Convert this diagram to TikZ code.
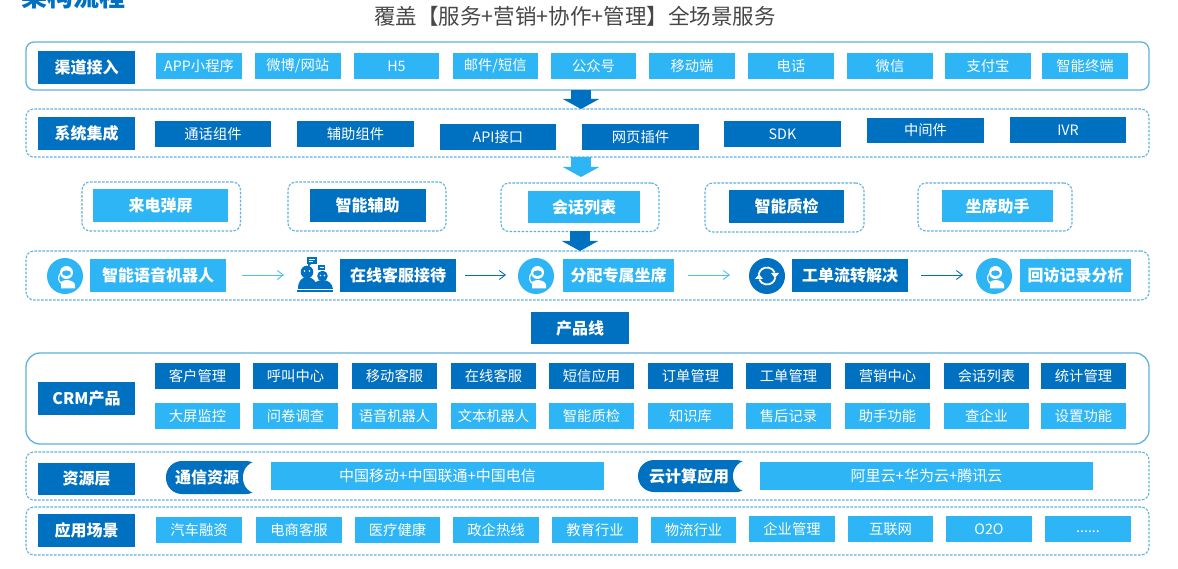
\documentclass[tikz,border=0pt]{standalone}
\usepackage{fontspec}
\setmainfont{Noto Sans CJK SC}
\usetikzlibrary{arrows.meta}
\definecolor{dk}{HTML}{0070C0}
\definecolor{lt}{HTML}{2DB5F5}
\definecolor{fr}{HTML}{5FB2DE}
\tikzset{
  base/.style={rectangle,inner sep=0pt,outer sep=0pt,text=white,align=center},
  dkitem/.style={base,fill=dk,font=\fontsize{14.3}{14.3}\selectfont},
  ltitem/.style={base,fill=lt,font=\fontsize{14.3}{14.3}\selectfont},
  dkhead/.style={base,fill=dk,font=\fontsize{16}{16}\selectfont\bfseries},
  lthead/.style={base,fill=lt,font=\fontsize{16}{16}\selectfont\bfseries},
  solidframe/.style={rectangle,draw=fr,line width=1.3pt,rounded corners=8pt,inner sep=0pt,outer sep=0pt},
  dashframe/.style={rectangle,draw=fr,line width=1.1pt,dash pattern=on 2.6pt off 1.4pt,rounded corners=8pt,inner sep=0pt,outer sep=0pt},
  flow/.style={-{Straight Barb[length=6pt,width=9pt]},line width=0.9pt},
  dkflow/.style={flow,draw=dk},
  ltflow/.style={flow,draw=lt!85!white},
  bigarrow/.style={line width=20pt,-{Triangle[width=36pt,length=10pt]}},
  iconcirc/.style={circle,minimum size=36pt,inner sep=0pt,outer sep=0pt},
}
\newcommand{\bx}[7]{%
  \pgfmathsetmacro{\ww}{#4-#2}\pgfmathsetmacro{\hh}{#5-#3}%
  \node[#6,minimum width=\ww pt,minimum height=\hh pt] (#1) at ({(#2+#4)/2},{(#3+#5)/2}) {#7};}
\newcommand{\agent}[1]{%
  \begin{scope}[shift={(#1.center)}]
    \fill[white] (-4,12.5) -- (-4,6) .. controls (-2,4.5) and (0,4) .. (2,4) .. controls (6,4.5) and (10,6) .. (10,9) -- (10,12.5) -- cycle;
    \fill[white] (1.5,-3.5) circle (6.5);
    \fill[lt] (1.5,-2.8) ellipse (4.4 and 2.8);
    \draw[white,line width=1.2pt] (-5,-2.5) .. controls (-7.5,2) and (-6.5,6) .. (-2.5,8);
  \end{scope}}
\begin{document}
\begin{tikzpicture}[x=1pt,y=-1pt]
\useasboundingbox (0,0) rectangle (1178,569);
\fill[white] (0,0) rectangle (1178,569);
% titles
\node[text=dk,font=\fontsize{26}{26}\selectfont\bfseries,inner sep=0,anchor=center] (logo) at (73.5,-3) {架构流程};
\node[text=black!72,font=\fontsize{21.5}{21.5}\selectfont,inner sep=0] (title) at (575,16) {覆盖【服务+营销+协作+管理】全场景服务};
% frames
\bx{f1}{26}{42}{1149}{90}{solidframe}{}
\bx{f2}{26}{109}{1149}{157}{dashframe}{}
\bx{f4}{26}{251}{1149}{300}{dashframe}{}
\bx{f5}{26}{353}{1149}{444}{solidframe,rounded corners=14pt}{}
\bx{f6}{26}{452}{1149}{500}{dashframe}{}
\bx{f7}{26}{507}{1149}{555}{dashframe}{}
\bx{fa}{82}{182}{240.5}{231}{dashframe}{}
\bx{fb}{288}{182}{446}{231}{dashframe}{}
\bx{fc}{501}{183}{659}{231.5}{dashframe}{}
\bx{fd}{705}{183}{864}{232}{dashframe}{}
\bx{fe}{918}{183}{1072}{231}{dashframe}{}
% big arrows
\draw[bigarrow,draw=dk] ([xshift=-6.5pt]f1.south) -- ([xshift=-6.5pt]f2.north);
\draw[bigarrow,draw=lt,shorten >=6pt] ([xshift=-6.5pt]f2.south) -- ([xshift=1pt]fc.north);
\draw[bigarrow,draw=dk] (fc.south) -- ([xshift=-7.5pt]f4.north);
% row 1
\bx{h1}{38}{51}{135}{84}{dkhead}{渠道接入}
\bx{a1}{156}{53}{242}{79}{ltitem}{APP小程序}
\bx{a2}{255}{53}{340.5}{79}{ltitem}{微博/网站}
\bx{a3}{354}{53}{439}{79}{ltitem}{H5}
\bx{a4}{452.5}{53}{538}{79}{ltitem}{邮件/短信}
\bx{a5}{551}{53}{636}{79}{ltitem}{公众号}
\bx{a6}{649}{53}{735}{79}{ltitem}{移动端}
\bx{a7}{748}{53}{834}{79}{ltitem}{电话}
\bx{a8}{847}{53}{933}{79}{ltitem}{微信}
\bx{a9}{945}{53}{1031}{79}{ltitem}{支付宝}
\bx{a10}{1042}{53}{1128}{79}{ltitem}{智能终端}
% row 2
\bx{h2}{38}{117}{135}{150}{dkhead}{系统集成}
\bx{b1}{155}{121}{271}{147}{dkitem}{通话组件}
\bx{b2}{297}{121}{414}{147}{dkitem}{辅助组件}
\bx{b3}{440}{124}{556}{150}{dkitem}{API接口}
\bx{b4}{582}{124}{699}{150}{dkitem}{网页插件}
\bx{b5}{724}{121}{841}{147}{dkitem}{SDK}
\bx{b6}{867}{118}{984}{143}{dkitem}{中间件}
\bx{b7}{1010}{117}{1126}{143}{dkitem}{IVR}
% row 3
\bx{c1}{93}{189}{228}{222}{lthead}{来电弹屏}
\bx{c2}{309.5}{189}{425.5}{222}{dkhead}{智能辅助}
\bx{c3}{528}{191}{640}{223}{lthead}{会话列表}
\bx{c4}{729}{190}{844}{223}{dkhead}{智能质检}
\bx{c5}{942}{190}{1053}{222}{lthead}{坐席助手}
% row 4
\node[iconcirc,fill=lt] (i1) at (65,276) {};
\agent{i1}
\bx{d1}{90}{259}{226}{292}{lthead}{智能语音机器人}
\fill[dk] (307,272) circle (6.3);
\fill[dk] (298,289) .. controls (298,281) and (302,277) .. (307,277) .. controls (312,277) and (317,281) .. (318,289) -- cycle;
\fill[dk] (322.5,276) circle (5.3);
\fill[dk] (312,289) .. controls (313,283) and (317,280) .. (322.5,280) .. controls (328,280) and (332,283) .. (333,289) -- cycle;
\fill[white] (304.5,271) circle (.9);\fill[white] (309.5,271) circle (.9);
\fill[white] (320.5,275.5) circle (.8);\fill[white] (324.5,275.5) circle (.8);
\fill[dk] (297,290.5) rectangle (333,292.5);
\fill[dk] (307,257) rectangle (317,264);\fill[dk] (308,264) -- (311,264) -- (308,267) -- cycle;
\draw[white,line width=.8pt] (309,259.5) -- (315,259.5) (309,261.7) -- (313,261.7);
\fill[dk] (318,265) rectangle (325,270);
\draw[white,line width=.7pt] (319.5,267) -- (323.5,267);
\bx{d2}{340}{259}{456}{292}{dkhead}{在线客服接待}
\node[iconcirc,fill=lt] (i3) at (536,276) {};
\agent{i3}
\bx{d3}{563}{259}{674}{292}{lthead}{分配专属坐席}
\node[iconcirc,fill=dk] (i4) at (767,276) {};
\begin{scope}[shift={(i4.center)}]
  \draw[white,line width=1.8pt] (i4.center) ++(-170:8.5) arc[start angle=-170,end angle=-25,radius=8.5];
  \draw[white,line width=1.8pt] (i4.center) ++(10:8.5) arc[start angle=10,end angle=155,radius=8.5];
\end{scope}
\fill[white] ([shift={(4,-3)}]i4.center) -- ([shift={(12,-3)}]i4.center) -- ([shift={(8,2)}]i4.center) -- cycle;
\fill[white] ([shift={(-12,3)}]i4.center) -- ([shift={(-4,3)}]i4.center) -- ([shift={(-8,-2)}]i4.center) -- cycle;
\bx{d4}{792}{259}{908}{292}{dkhead}{工单流转解决}
\node[iconcirc,fill=lt] (i5) at (994,276) {};
\agent{i5}
\bx{d5}{1020}{259}{1131}{292}{lthead}{回访记录分析}
\coordinate (n1) at (242,275);\coordinate (n2) at (284,275);
\coordinate (n3) at (465,275);\coordinate (n4) at (506,275);
\coordinate (n5) at (688,275);\coordinate (n6) at (730,275);
\coordinate (n7) at (921,275);\coordinate (n8) at (963,275);
\draw[ltflow] (n1) -- (n2);
\draw[dkflow] (n3) -- (n4);
\draw[ltflow] (n5) -- (n6);
\draw[dkflow] (n7) -- (n8);
% product line
\bx{p}{531}{312}{629}{344}{dkhead}{产品线}
% CRM
\bx{h5}{38}{382}{135}{415}{dkhead}{CRM产品}
\bx{e1}{155}{363}{240}{389}{dkitem}{客户管理}
\bx{e2}{253}{363}{338}{389}{dkitem}{呼叫中心}
\bx{e3}{352}{363}{437}{389}{dkitem}{移动客服}
\bx{e4}{451}{363}{536}{389}{dkitem}{在线客服}
\bx{e5}{549}{363}{634}{389}{dkitem}{短信应用}
\bx{e6}{648}{363}{733}{389}{dkitem}{订单管理}
\bx{e7}{746}{363}{831}{389}{dkitem}{工单管理}
\bx{e8}{845}{363}{930}{389}{dkitem}{营销中心}
\bx{e9}{944}{363}{1029}{389}{dkitem}{会话列表}
\bx{e10}{1041}{363}{1126}{389}{dkitem}{统计管理}
\bx{g1}{155}{403}{240}{429}{ltitem}{大屏监控}
\bx{g2}{253}{403}{338}{429}{ltitem}{问卷调查}
\bx{g3}{352}{403}{437}{429}{ltitem}{语音机器人}
\bx{g4}{451}{403}{536}{429}{ltitem}{文本机器人}
\bx{g5}{549}{403}{634}{429}{ltitem}{智能质检}
\bx{g6}{648}{403}{733}{429}{ltitem}{知识库}
\bx{g7}{746}{403}{831}{429}{ltitem}{售后记录}
\bx{g8}{845}{403}{930}{429}{ltitem}{助手功能}
\bx{g9}{944}{403}{1029}{429}{ltitem}{查企业}
\bx{g10}{1041}{403}{1126}{429}{ltitem}{设置功能}
% resources
\bx{h6}{38}{463}{135}{495}{dkhead}{资源层}
\fill[dk,rounded corners=16pt] (166,461) rectangle (262,494);
\fill[white,rounded corners=16pt] (243,461) rectangle (290,494);
\node[text=white,font=\fontsize{16}{16}\selectfont\bfseries,inner sep=0] (r1) at (207,477.5) {通信资源};
\bx{r2}{271}{462}{604}{490}{ltitem,font=\fontsize{15}{15}\selectfont}{中国移动+中国联通+中国电信}
\fill[dk,rounded corners=16pt] (638,460) rectangle (752,492);
\fill[white,rounded corners=16pt] (733,460) rectangle (780,492);
\node[text=white,font=\fontsize{16}{16}\selectfont\bfseries,inner sep=0] (r3) at (689,476) {云计算应用};
\bx{r4}{760}{462}{1093}{490}{ltitem,font=\fontsize{15}{15}\selectfont}{阿里云+华为云+腾讯云}
% scenarios
\bx{h7}{38}{514}{135}{547}{dkhead}{应用场景}
\bx{s1}{156}{517}{242}{543}{ltitem}{汽车融资}
\bx{s2}{256}{517}{342}{543}{ltitem}{电商客服}
\bx{s3}{355}{517}{440}{543}{ltitem}{医疗健康}
\bx{s4}{453}{517}{539}{543}{ltitem}{政企热线}
\bx{s5}{552}{517}{638}{543}{ltitem}{教育行业}
\bx{s6}{651}{517}{736}{543}{ltitem}{物流行业}
\bx{s7}{749}{516}{835}{542}{ltitem}{企业管理}
\bx{s8}{848}{516}{933}{542}{ltitem}{互联网}
\bx{s9}{946}{516}{1032}{542}{ltitem}{O2O}
\bx{s10}{1045}{516}{1131}{542}{ltitem}{\raisebox{-3pt}[0pt][0pt]{......}}
\end{tikzpicture}
\end{document}
